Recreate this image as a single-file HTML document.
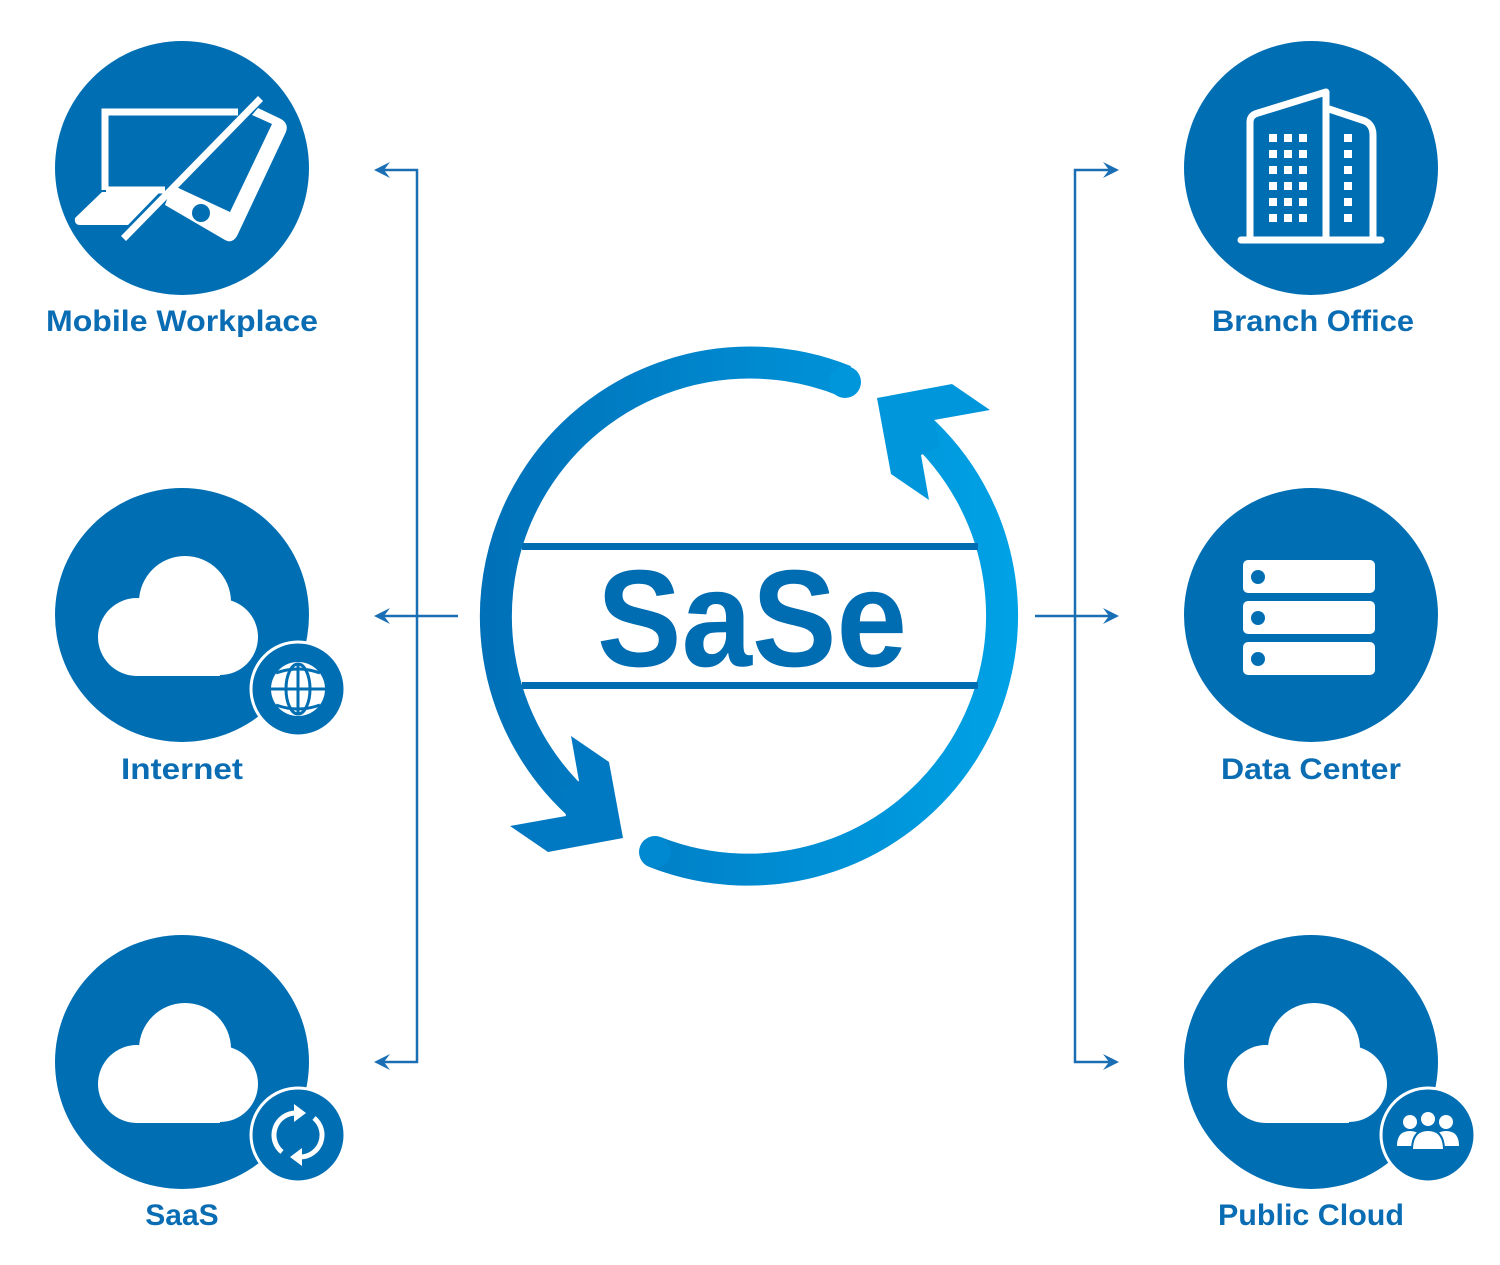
<!DOCTYPE html>
<html><head><meta charset="utf-8"><style>
html,body{margin:0;padding:0;background:#fff;}
svg{display:block}
text{font-family:"Liberation Sans",sans-serif;font-weight:bold;}
</style></head><body>
<svg width="1500" height="1265" viewBox="0 0 1500 1265" xmlns="http://www.w3.org/2000/svg">
<defs>
<linearGradient id="g" x1="480" y1="0" x2="1020" y2="0" gradientUnits="userSpaceOnUse">
<stop offset="0" stop-color="#0070b8"/><stop offset="1" stop-color="#00a2e6"/>
</linearGradient>
<g id="cloud">
<circle cx="-45" cy="22" r="39"/><circle cx="3" cy="-13" r="46"/><circle cx="38" cy="22" r="38"/>
<rect x="-45" y="0" width="83" height="61"/>
</g>
</defs>

<!-- connectors -->
<g stroke="#1a6fb4" stroke-width="2.5" fill="none">
<path d="M380,170 H417 V1062 H380"/>
<path d="M458,616 H380"/>
<path d="M1113,170 H1075 V1062 H1113"/>
<path d="M1035,616 H1113"/>
</g>
<g fill="#1a6fb4">
<path d="M374,170 l16,-8 l-6,8 l6,8z"/><path d="M374,616 l16,-8 l-6,8 l6,8z"/><path d="M374,1062 l16,-8 l-6,8 l6,8z"/>
<path d="M1119,170 l-16,-8 l6,8 l-6,8z"/><path d="M1119,616 l-16,-8 l6,8 l-6,8z"/><path d="M1119,1062 l-16,-8 l6,8 l-6,8z"/>
</g>

<!-- circles -->
<g fill="#006eb3">
<circle cx="182" cy="168" r="127"/>
<circle cx="182" cy="615" r="127"/>
<circle cx="182" cy="1062" r="127"/>
<circle cx="1311" cy="168" r="127"/>
<circle cx="1311" cy="615" r="127"/>
<circle cx="1311" cy="1062" r="127"/>
</g>
<!-- badges -->
<g fill="#006eb3" stroke="#fff" stroke-width="3">
<circle cx="298" cy="689" r="47"/>
<circle cx="298" cy="1135" r="47"/>
<circle cx="1428" cy="1135" r="47"/>
</g>

<!-- clouds -->
<g fill="#fff">
<use href="#cloud" x="182" y="615"/>
<use href="#cloud" x="182" y="1062"/>
<use href="#cloud" x="1311" y="1062"/>
</g>

<!-- globe -->
<circle cx="298" cy="689" r="27" fill="#fff"/>
<g stroke="#006eb3" stroke-width="3" fill="none">
<ellipse cx="298" cy="689" rx="12" ry="25"/>
<line x1="298" y1="664" x2="298" y2="714"/>
<line x1="271" y1="689" x2="325" y2="689"/>
<path d="M276,673 Q298,665 320,673"/>
<path d="M276,705 Q298,713 320,705"/>
</g>

<!-- sync -->
<g stroke="#fff" stroke-width="5" fill="none">
<path d="M282,1152 A22,22 0 0 1 296,1113"/>
<path d="M314,1118 A22,22 0 0 1 300,1157"/>
</g>
<g fill="#fff">
<path d="M294,1104 L306,1113 L294,1122 Z"/>
<path d="M302,1148 L290,1157 L302,1166 Z"/>
</g>

<!-- people -->
<g fill="#fff">
<circle cx="1410" cy="1122" r="7"/><path d="M1397,1146 Q1397,1131 1410,1131 Q1423,1131 1423,1146 Z"/>
<circle cx="1446" cy="1122" r="7"/><path d="M1433,1146 Q1433,1131 1446,1131 Q1459,1131 1459,1146 Z"/>
<circle cx="1428" cy="1119" r="8" stroke="#006eb3" stroke-width="2"/><path d="M1412,1150 Q1412,1130 1428,1130 Q1444,1130 1444,1150 Z" stroke="#006eb3" stroke-width="2"/>
</g>

<!-- mobile workplace -->
<g fill="none" stroke="#fff" stroke-width="7">
<path d="M105,190 V112 H238"/>
<path d="M106,190 H165"/>
</g>
<g fill="#fff">
<path d="M102,192 L75,218 Q74,225 80,225 L128,225 L160,192 Z"/>
<path d="M121,236 L258,96 L263,101 L126,241 Z"/>
<path d="M165,205 L225,240 Q232,244 237,236 L285,134 Q290,124 281,119 L258,108 L252,115 L272,124 L230,212 L172,185 Z"/>
</g>
<circle cx="201" cy="213" r="9" fill="#006eb3"/>

<!-- building -->
<g fill="none" stroke="#fff" stroke-width="7" stroke-linejoin="round" stroke-linecap="round">
<path d="M1250,240 V122 Q1250,115 1258,113 L1326,92 V240"/>
<path d="M1326,108 L1365,121 Q1373,125 1373,135 V240"/>
<path d="M1241,240 H1381"/>
</g>
<g fill="#fff">
<g id="wr">
<rect x="1269" y="134" width="8" height="8"/><rect x="1284" y="134" width="8" height="8"/><rect x="1299" y="134" width="8" height="8"/><rect x="1344" y="134" width="8" height="8"/>
</g>
<use href="#wr" y="16"/><use href="#wr" y="32"/><use href="#wr" y="48"/><use href="#wr" y="64"/><use href="#wr" y="80"/>
</g>

<!-- servers -->
<g fill="#fff">
<rect x="1243" y="560" width="132" height="33" rx="5"/>
<rect x="1243" y="601" width="132" height="33" rx="5"/>
<rect x="1243" y="642" width="132" height="33" rx="5"/>
</g>
<g fill="#006eb3">
<circle cx="1258" cy="577" r="7"/><circle cx="1258" cy="618" r="7"/><circle cx="1258" cy="659" r="7"/>
</g>

<!-- labels -->
<g fill="#0a6db3" font-size="30" text-anchor="middle">
<text x="182" y="331" textLength="272" lengthAdjust="spacingAndGlyphs">Mobile Workplace</text>
<text x="182" y="779" textLength="122" lengthAdjust="spacingAndGlyphs">Internet</text>
<text x="182" y="1225">SaaS</text>
<text x="1313" y="331" textLength="202" lengthAdjust="spacingAndGlyphs">Branch Office</text>
<text x="1311" y="779" textLength="180" lengthAdjust="spacingAndGlyphs">Data Center</text>
<text x="1311" y="1225" textLength="186" lengthAdjust="spacingAndGlyphs">Public Cloud</text>
</g>

<!-- center ring -->
<g fill="none" stroke="url(#g)" stroke-width="32">
<path d="M845,381 A254,254 0 0 0 583,808"/>
<path d="M655,852 A254,254 0 0 0 917,426"/>
</g>
<circle cx="845" cy="382" r="16" fill="#0096dc"/>
<circle cx="655" cy="852" r="16" fill="#0088d0"/>
<path d="M510,826 L548,852 L623,838 L609,762 L571,736 L579,781 L560,790 L566,816 Z" fill="#0078c2"/>
<path d="M990,410 L952,384 L877,398 L891,474 L929,500 L921,455 L940,446 L934,420 Z" fill="#0096dc"/>
<g fill="#006cb2">
<rect x="522" y="543" width="456" height="7"/>
<rect x="522" y="682" width="456" height="7"/>
</g>
<text x="597" y="666" font-size="138" fill="#006cb2" textLength="310" lengthAdjust="spacingAndGlyphs">SaSe</text>
</svg>
</body></html>
